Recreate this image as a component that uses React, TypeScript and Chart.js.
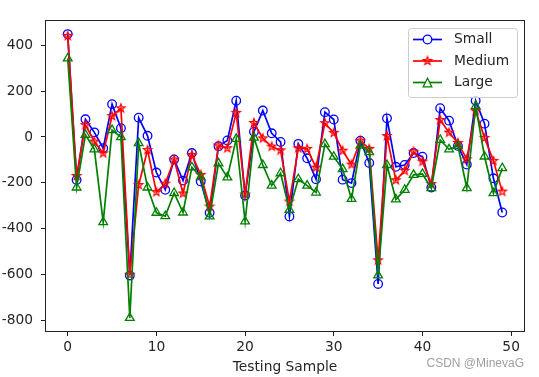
import React, { useEffect, useRef } from "react";
import { Chart, registerables } from "chart.js";

Chart.register(...registerables);

const samples = [
  0, 1, 2, 3, 4, 5, 6, 7, 8, 9, 10, 11, 12, 13, 14, 15, 16, 17, 18, 19, 20, 21, 22, 23, 24,
  25, 26, 27, 28, 29, 30, 31, 32, 33, 34, 35, 36, 37, 38, 39, 40, 41, 42, 43, 44, 45, 46, 47, 48, 49,
];

const small = [
  448, -187, 77, 20, -49, 143, 38, -603, 84, 5,
  -155, -230, -98, -190, -70, -194, -330, -40, -15, 158,
  -255, 23, 115, 16, -22, -346, -30, -93, -184, 108,
  76, -186, -201, -16, -113, -640, 81, -130, -122, -70,
  -86, -220, 125, 71, -39, -120, 158, 58, -180, -329,
];

const medium = [
  440, -170, 52, -20, -71, 91, 125, -600, -209, -57,
  -240, -203, -98, -246, -78, -165, -303, -37, -49, 105,
  -250, 61, -6, -42, -58, -281, -49, -52, -133, 60,
  18, -60, -120, -16, -52, -537, 4, -188, -147, -64,
  -107, -205, 74, 19, -26, -97, 113, -4, -104, -238,
];

const large = [
  342, -220, 9, -54, -371, 30, -1, -788, -27, -220,
  -330, -345, -244, -329, -132, -175, -346, -115, -176, -8,
  -368, -3, -122, -212, -158, -317, -184, -212, -242, -31,
  -86, -140, -270, -38, -66, -603, -122, -272, -230, -165,
  -161, -223, -13, -54, -39, -223, 134, -85, -245, -136,
];

const seriesNames = ["Small", "Medium", "Large"];
const xTicks = [0, 10, 20, 30, 40, 50];
const yTicks = [-800, -600, -400, -200, 0, 200, 400];
const xLabel = "Testing Sample";
const watermark = "CSDN @MinevaG";

const BLUE = "#0000ff";
const RED = "#ff0000";
const GREEN = "#008000";
const TEXT = "#262626";
const FONT = "'DejaVu Sans', sans-serif";

function makeStar(color: string, outerR: number, innerR: number, lw: number) {
  const size = Math.ceil(2 * (outerR + lw)) + 2;
  const c = document.createElement("canvas");
  c.width = size;
  c.height = size;
  const ctx = c.getContext("2d")!;
  const cx = size / 2;
  const cy = size / 2;
  ctx.beginPath();
  for (let k = 0; k < 10; k++) {
    const r = k % 2 === 0 ? outerR : innerR;
    const a = -Math.PI / 2 + (k * Math.PI) / 5;
    const px = cx + r * Math.cos(a);
    const py = cy + r * Math.sin(a);
    if (k === 0) ctx.moveTo(px, py);
    else ctx.lineTo(px, py);
  }
  ctx.closePath();
  ctx.strokeStyle = color;
  ctx.lineWidth = lw;
  ctx.lineJoin = "miter";
  ctx.stroke();
  return c;
}

export default function App() {
  const ref = useRef<HTMLCanvasElement | null>(null);

  useEffect(() => {
    const canvas = ref.current;
    if (!canvas) return;
    const star = makeStar(RED, 4.4, 1.8, 1.2);

    const toPts = (arr: number[]) => samples.map((x, i) => ({ x, y: arr[i] }));

    const framePlugin = {
      id: "frame",
      afterDatasetsDraw(chart: any) {
        const { ctx, chartArea } = chart;
        ctx.save();
        ctx.strokeStyle = "#222";
        ctx.lineWidth = 1;
        ctx.strokeRect(
          Math.round(chartArea.left) - 0.5,
          Math.round(chartArea.top) - 0.5,
          Math.round(chartArea.right - chartArea.left) + 1,
          Math.round(chartArea.bottom - chartArea.top) + 1
        );
        ctx.restore();
      },
      afterDraw(chart: any) {
        const { ctx } = chart;
        ctx.save();
        const bx = 408.5, by = 28.5, bw = 109, bh = 69, r = 3;
        ctx.beginPath();
        ctx.moveTo(bx + r, by);
        ctx.lineTo(bx + bw - r, by);
        ctx.quadraticCurveTo(bx + bw, by, bx + bw, by + r);
        ctx.lineTo(bx + bw, by + bh - r);
        ctx.quadraticCurveTo(bx + bw, by + bh, bx + bw - r, by + bh);
        ctx.lineTo(bx + r, by + bh);
        ctx.quadraticCurveTo(bx, by + bh, bx, by + bh - r);
        ctx.lineTo(bx, by + r);
        ctx.quadraticCurveTo(bx, by, bx + r, by);
        ctx.closePath();
        ctx.fillStyle = "rgba(255,255,255,0.85)";
        ctx.fill();
        ctx.strokeStyle = "#cccccc";
        ctx.lineWidth = 1;
        ctx.stroke();

        const rows = [39.5, 61, 82.5];
        const colors = [BLUE, RED, GREEN];
        rows.forEach((ry, k) => {
          ctx.strokeStyle = colors[k];
          ctx.lineWidth = 1.7;
          ctx.beginPath();
          ctx.moveTo(413, ry);
          ctx.lineTo(442, ry);
          ctx.stroke();
          const mx = 427.5;
          if (k === 0) {
            ctx.beginPath();
            ctx.arc(mx, ry, 4.3, 0, Math.PI * 2);
            ctx.fillStyle = "#ffffff";
            ctx.fill();
            ctx.lineWidth = 1.3;
            ctx.stroke();
          } else if (k === 1) {
            ctx.drawImage(star, mx - star.width / 2, ry - star.height / 2);
          } else {
            const s = 4.3;
            ctx.beginPath();
            ctx.moveTo(mx, ry - s);
            ctx.lineTo(mx - s, ry + s);
            ctx.lineTo(mx + s, ry + s);
            ctx.closePath();
            ctx.fillStyle = "#ffffff";
            ctx.fill();
            ctx.lineWidth = 1.3;
            ctx.stroke();
          }
          ctx.fillStyle = TEXT;
          ctx.font = "13.8px " + FONT;
          ctx.textAlign = "left";
          ctx.textBaseline = "middle";
          ctx.fillText(seriesNames[k], 454, ry);
        });

        ctx.font = "12px 'Liberation Sans', Arial, sans-serif";
        ctx.fillStyle = "#a0a0a0";
        ctx.textAlign = "right";
        ctx.textBaseline = "middle";
        ctx.fillText(watermark, 524, 364);
        ctx.restore();
      },
    };

    const chart = new Chart(canvas, {
      type: "line",
      data: {
        datasets: [
          {
            label: seriesNames[0],
            data: toPts(small),
            borderColor: BLUE,
            borderWidth: 1.7,
            pointStyle: "circle",
            pointRadius: 4.3,
            pointBorderWidth: 1.3,
            pointBorderColor: BLUE,
            pointBackgroundColor: "rgba(0,0,0,0)",
            tension: 0,
            order: 2,
          },
          {
            label: seriesNames[1],
            data: toPts(medium),
            borderColor: RED,
            borderWidth: 1.7,
            pointStyle: star as any,
            pointRadius: 4.3,
            pointBorderColor: RED,
            pointBackgroundColor: "rgba(0,0,0,0)",
            tension: 0,
            order: 1,
          },
          {
            label: seriesNames[2],
            data: toPts(large),
            borderColor: GREEN,
            borderWidth: 1.7,
            pointStyle: "triangle",
            pointRadius: 5,
            pointBorderWidth: 1.3,
            pointBorderColor: GREEN,
            pointBackgroundColor: "rgba(0,0,0,0)",
            tension: 0,
            order: 0,
          },
        ],
      },
      options: {
        responsive: false,
        animation: false,
        events: [],
        layout: { padding: { left: 0, top: 21, right: 15, bottom: 0 } },
        plugins: {
          legend: { display: false },
          tooltip: { enabled: false },
        },
        scales: {
          x: {
            type: "linear",
            min: -2.45,
            max: 51.45,
            afterBuildTicks: (axis: any) => {
              axis.ticks = xTicks.map((v) => ({ value: v }));
            },
            afterFit: (scale: any) => {
              scale.height = 46;
            },
            grid: {
              display: true,
              drawOnChartArea: false,
              drawTicks: true,
              tickLength: 5,
              tickColor: "#222",
              lineWidth: 1,
            },
            border: { display: false },
            ticks: {
              color: TEXT,
              font: { family: FONT, size: 13.8 },
              padding: 3,
              maxRotation: 0,
              autoSkip: false,
            },
            title: {
              display: true,
              text: xLabel,
              color: TEXT,
              font: { family: FONT, size: 13.8 },
              padding: { top: 0, bottom: 1 },
            },
          },
          y: {
            type: "linear",
            min: -845,
            max: 505,
            afterBuildTicks: (axis: any) => {
              axis.ticks = yTicks.map((v) => ({ value: v }));
            },
            afterFit: (scale: any) => {
              scale.width = 46;
            },
            grid: {
              display: true,
              drawOnChartArea: false,
              drawTicks: true,
              tickLength: 5,
              tickColor: "#222",
              lineWidth: 1,
            },
            border: { display: false },
            ticks: {
              color: TEXT,
              font: { family: FONT, size: 13.8 },
              padding: 8,
              autoSkip: false,
            },
          },
        },
      },
      plugins: [framePlugin],
    });

    return () => chart.destroy();
  }, []);

  return (
    <div style={{ position: "fixed", left: 0, top: 0, width: 539, height: 377, background: "#fff" }}>
      <canvas ref={ref} width={539} height={377} style={{ width: 539, height: 377, display: "block" }} />
    </div>
  );
}
